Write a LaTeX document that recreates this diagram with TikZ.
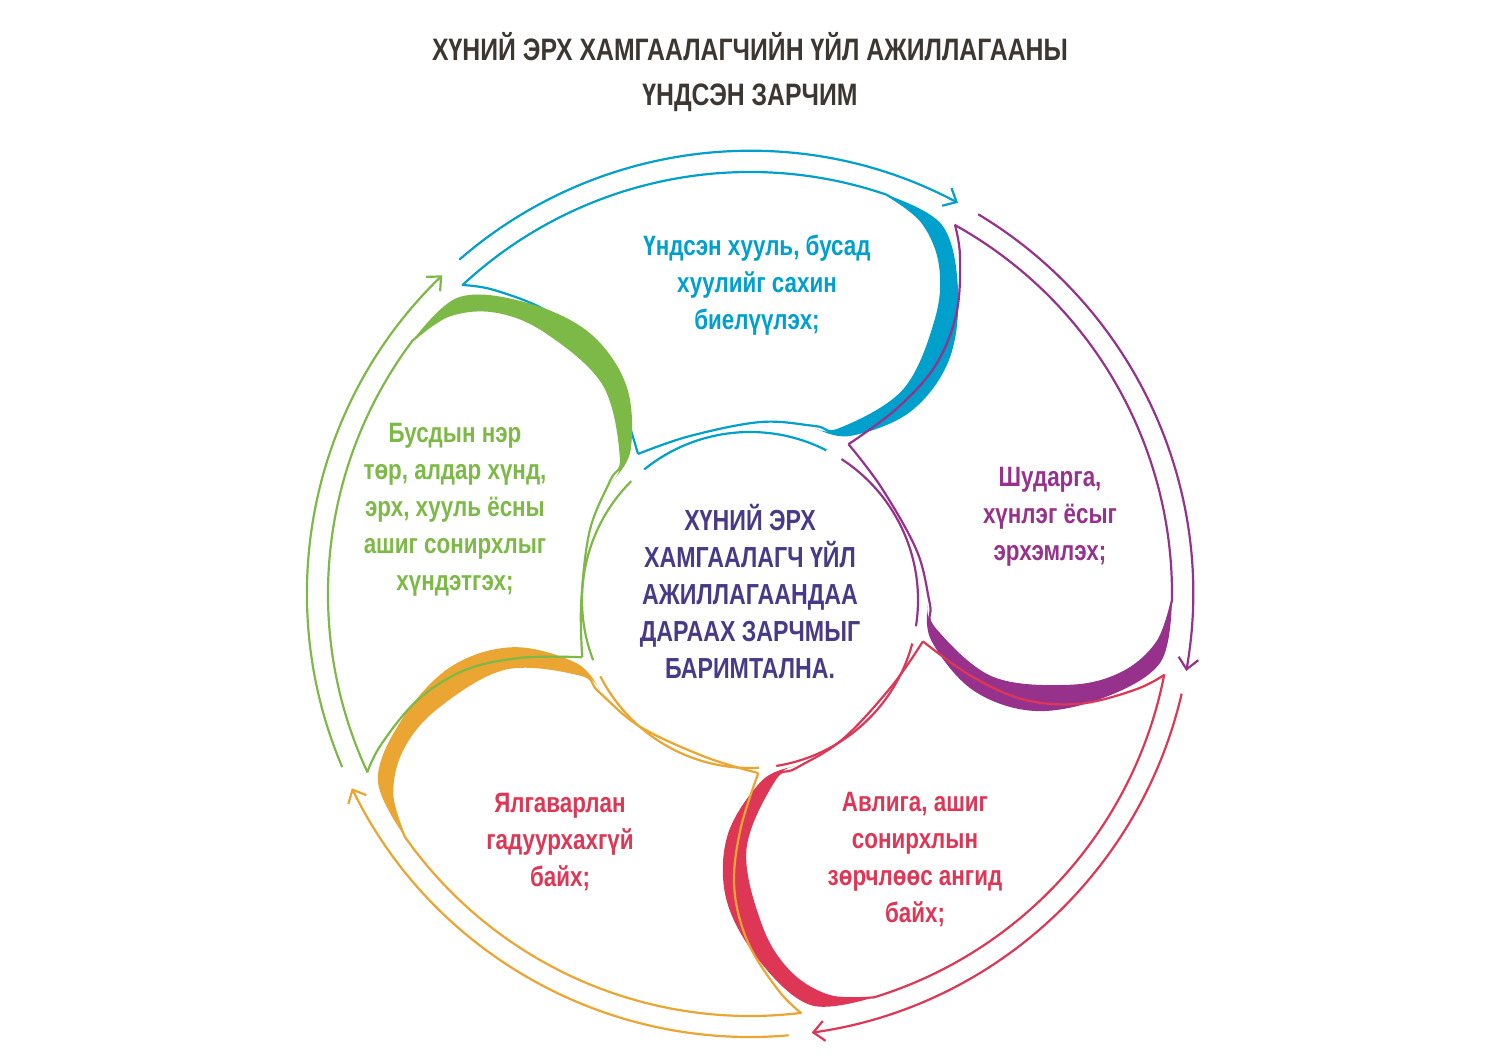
\documentclass[tikz,border=0pt]{standalone}
\usepackage{fontspec}
\setmainfont{Liberation Sans}[FakeStretch=0.8]
\usetikzlibrary{arrows.meta}
\definecolor{cblue}{RGB}{0,160,205}
\definecolor{cpurple}{RGB}{150,50,140}
\definecolor{cred}{RGB}{222,55,85}
\definecolor{corange}{RGB}{235,165,50}
\definecolor{cgreen}{RGB}{125,185,70}
\definecolor{ctext}{RGB}{72,58,135}
\definecolor{ctitle}{RGB}{60,55,50}
\tikzset{
  thin line/.style={line width=2.2pt},
  ringarrow/.style={line width=2.2pt,-{Straight Barb[length=11pt,width=20pt,line width=2.2pt]}},
  lbl/.style={align=center,font=\fontsize{28}{37}\selectfont\bfseries},
}
\begin{document}
\begin{tikzpicture}[x=1pt,y=1pt]
\useasboundingbox (0,0) rectangle (1500,1060);
\node[font=\fontsize{31}{45}\selectfont\bfseries,text=ctitle,align=center] (title) at (750,988) {ХҮНИЙ ЭРХ ХАМГААЛАГЧИЙН ҮЙЛ АЖИЛЛАГААНЫ\\ҮНДСЭН ЗАРЧИМ};
\foreach \k/\col in {0/cblue,1/cpurple,2/cred,3/corange,4/cgreen}{
  \begin{scope}[shift={(750,466)},rotate={-72*\k}]
    \draw[ringarrow,\col] (131:443) arc[start angle=131,end angle=62,radius=443];
    \draw[thin line,\col] (133:422) arc[start angle=133,end angle=71,radius=422];
    \draw[thin line,\col,line join=round] plot[smooth,tension=0.6] coordinates {(137,399)(172,372)(190,329)(186,275)(154,204)(90,165)(65,168)(11,172)(-60,158)(-112,140)};
    \draw[thin line,\col] plot[smooth,tension=0.6] coordinates {(-112,140)(-131,197)(-160,247)(-203,283)(-256,304)(-288,309)};
    \fill[\col] plot[smooth,tension=0.6] coordinates {(137,399)(192,369)(208,304)(199,234)(160,182)(100,158)(65,166)} -- plot[smooth,tension=0.6] coordinates {(65,166)(90,165)(154,204)(186,275)(190,329)(172,372)(137,399)} -- cycle;
  \end{scope}
  \begin{scope}[shift={(750,460)},rotate={-72*\k}]
    \draw[thin line,\col] (129:168) arc[start angle=129,end angle=63,radius=168];
  \end{scope}
}
\node[lbl,text=ctext,font=\fontsize{29}{37}\selectfont\bfseries] (center) at (750,469) {ХҮНИЙ ЭРХ\\ХАМГААЛАГЧ ҮЙЛ\\АЖИЛЛАГААНДАА\\ДАРААХ ЗАРЧМЫГ\\БАРИМТАЛНА.};
\node[lbl,text=cblue] (p1) at (757,775) {Үндсэн хууль, бусад\\хуулийг сахин\\биелүүлэх;};
\node[lbl,text=cpurple] (p2) at (1050,543) {Шударга,\\хүнлэг ёсыг\\эрхэмлэх;};
\node[lbl,text=cred] (p3) at (915,200) {Авлига, ашиг\\сонирхлын\\зөрчлөөс ангид\\байх;};
\node[lbl,text=cred] (p4) at (560,218) {Ялгаварлан\\гадуурхахгүй\\байх;};
\node[lbl,text=cgreen] (p5) at (455,550) {Бусдын нэр\\төр, алдар хүнд,\\эрх, хууль ёсны\\ашиг сонирхлыг\\хүндэтгэх;};
\end{tikzpicture}
\end{document}
